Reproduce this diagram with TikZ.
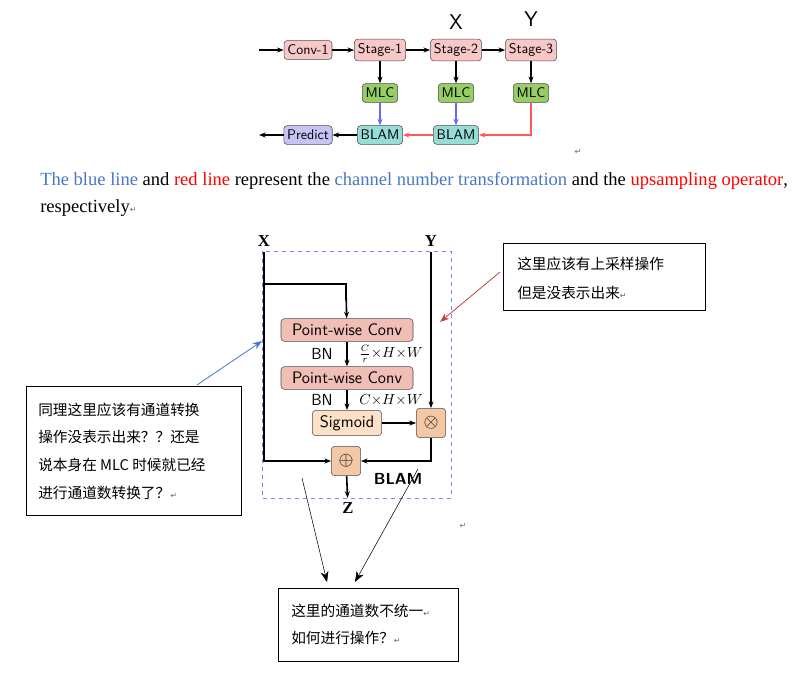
\documentclass[tikz,border=0pt]{standalone}
\usepackage{fontspec}
\setmainfont{Liberation Serif}
\newfontfamily\cjk{Noto Sans CJK SC}
\newfontfamily\dv{DejaVu Sans}
\usetikzlibrary{arrows.meta}
\definecolor{stg}{RGB}{248,200,200}
\definecolor{mlc}{RGB}{150,205,100}
\definecolor{blm}{RGB}{150,220,215}
\definecolor{prd}{RGB}{200,195,245}
\definecolor{pw}{RGB}{240,190,180}
\definecolor{sg}{RGB}{252,225,200}
\definecolor{op}{RGB}{245,200,165}
\definecolor{bl}{RGB}{70,120,200}
\definecolor{rd}{RGB}{192,70,70}
\begin{document}
\begin{tikzpicture}[x=0.75pt,y=-0.75pt,
 box/.style={draw=black!70,rounded corners=2.5pt,minimum height=14pt,inner xsep=2.5pt,font=\sffamily\fontsize{10.5}{11}\selectfont},
 ar/.style={-{Stealth[length=5pt]},line width=1.2pt},
 ret/.style={font=\dv\fontsize{6}{6}\selectfont,text=black!60},
 cj/.style={font=\cjk\fontsize{11}{13}\selectfont,anchor=west,inner sep=0},
 cb/.style={draw=black,thin}]
\useasboundingbox (0,0) rectangle (800,672);
% top diagram
\node[box,fill=stg] (c1) at (308,50) {Conv-1};
\node[box,fill=stg] (s1) at (380,50) {Stage-1};
\node[box,fill=stg] (s2) at (456,50) {Stage-2};
\node[box,fill=stg] (s3) at (531,50) {Stage-3};
\node[box,fill=mlc] (m1) at (380,93) {MLC};
\node[box,fill=mlc] (m2) at (456,93) {MLC};
\node[box,fill=mlc] (m3) at (531,93) {MLC};
\node[box,fill=blm] (b1) at (380,135) {BLAM};
\node[box,fill=blm] (b2) at (456,135) {BLAM};
\node[box,fill=prd] (pr) at (308,135) {Predict};
\coordinate (in) at (259,50); \coordinate (out) at (259,135);
\node[font=\sffamily\fontsize{16}{16}\selectfont] (lx) at (456,22) {X};
\node[font=\sffamily\fontsize{16}{16}\selectfont] (ly) at (531,19) {Y};
\draw[ar] (in) -- (c1); \draw[ar] (c1) -- (s1); \draw[ar] (s1) -- (s2); \draw[ar] (s2) -- (s3);
\draw[ar] (s1) -- (m1); \draw[ar] (s2) -- (m2); \draw[ar] (s3) -- (m3);
\draw[ar,blue!60,line width=1pt] (m1) -- (b1); \draw[ar,blue!60,line width=1pt] (m2) -- (b2);
\draw[ar,red!65,line width=1pt] (m3) |- (b2); \draw[ar,red!65,line width=1pt] (b2) -- (b1);
\draw[ar] (b1) -- (pr); \draw[ar] (pr) -- (out);
\node[ret] at (578,152) {↵};
% caption
\node[anchor=west,inner sep=0,font=\fontsize{13.9}{16}\selectfont] (cap1) at (40,181) {\textcolor{bl}{The blue line} and \textcolor{red}{red line} represent the \textcolor{bl}{channel number transformation} and the \textcolor{red}{upsampling operator},};
\node[anchor=west,inner sep=0,font=\fontsize{13.9}{16}\selectfont] (cap2) at (40,208) {respectively{\dv\fontsize{6}{6}\selectfont\color{black!60}↵}};
% BLAM diagram
\draw[dashed,draw=blue!50,semithick] (262,251) rectangle (451,498);
\node[font=\bfseries\fontsize{12.5}{12}\selectfont] (X) at (264,241) {X};
\node[font=\bfseries\fontsize{12.5}{12}\selectfont] (Y) at (431,241) {Y};
\node[box,fill=pw,minimum width=99pt,minimum height=17pt,font=\sffamily\fontsize{12.5}{13}\selectfont] (p1) at (347,330) {Point-wise Conv};
\node[box,fill=pw,minimum width=99pt,minimum height=17pt,font=\sffamily\fontsize{12.5}{13}\selectfont] (p2) at (347,378) {Point-wise Conv};
\node[box,fill=sg,minimum width=52pt,minimum height=19pt,font=\sffamily\fontsize{12.5}{13}\selectfont] (sg) at (347,423) {Sigmoid};
\node[box,fill=op,minimum width=22pt,minimum height=22pt,inner sep=0,font=\fontsize{15}{15}\selectfont] (om) at (431,423) {$\otimes$};
\node[box,fill=op,minimum width=22pt,minimum height=22pt,inner sep=0,font=\fontsize{15}{15}\selectfont] (opl) at (346,461) {$\oplus$};
\node[font=\sffamily\fontsize{12}{12}\selectfont] at (322,354) {BN};
\node[font=\sffamily\fontsize{12}{12}\selectfont] at (322,400) {BN};
\node[font=\fontsize{10.5}{10}\selectfont] at (391,354) {$\frac{C}{r}{\times}H{\times}W$};
\node[font=\fontsize{10.5}{10}\selectfont] at (391,400) {$C{\times}H{\times}W$};
\node[font=\sffamily\bfseries\fontsize{12}{12}\selectfont] at (398,479) {BLAM};
\node[font=\bfseries\fontsize{12.5}{12}\selectfont] (Z) at (348,508) {Z};
\coordinate (xt) at (264,252); \coordinate (yt) at (431,252);
\draw[ar] (xt) |- (opl);
\draw[line width=1.2pt] (264,284) -| (346,300);
\draw[ar] (346,290) -- (p1);
\draw[ar] (p1) -- (p2); \draw[ar] (p2) -- (sg); \draw[ar] (sg) -- (om);
\draw[ar] (yt) -- (om); \draw[ar] (om) |- (opl); \draw[ar] (opl) -- (Z);
\node[ret] at (463,526) {↵};
% callouts
\draw[cb] (503,243) rectangle (705,310);
\node[cj] at (517,264) {这里应该有上采样操作};
\node[cj] at (517,293) {但是没表示出来{\dv\fontsize{6}{6}\selectfont\color{black!60}↵}};
\draw[-{Stealth[length=7pt]},rd,semithick] (500,272) -- (440,322);
\draw[cb] (26,386) rectangle (241,515);
\node[cj] at (38,410) {同理这里应该有通道转换};
\node[cj] at (38,437) {操作没表示出来？？还是};
\node[cj] at (38,465) {说本身在 MLC 时候就已经};
\node[cj] at (38,493) {进行通道数转换了？{\dv\fontsize{6}{6}\selectfont\color{black!60}↵}};
\draw[-{Stealth[length=7pt]},bl,semithick] (197,385) -- (262,341);
\draw[cb] (278,588) rectangle (458,661);
\node[cj] at (291,611) {这里的通道数不统一{\dv\fontsize{6}{6}\selectfont\color{black!60}↵}};
\node[cj] at (291,638) {如何进行操作？{\dv\fontsize{6}{6}\selectfont\color{black!60}↵}};
\draw[-{Stealth[length=8pt]},thin] (302,478) -- (327,582);
\draw[-{Stealth[length=8pt]},thin] (418,469) -- (355,582);
\end{tikzpicture}
\end{document}
